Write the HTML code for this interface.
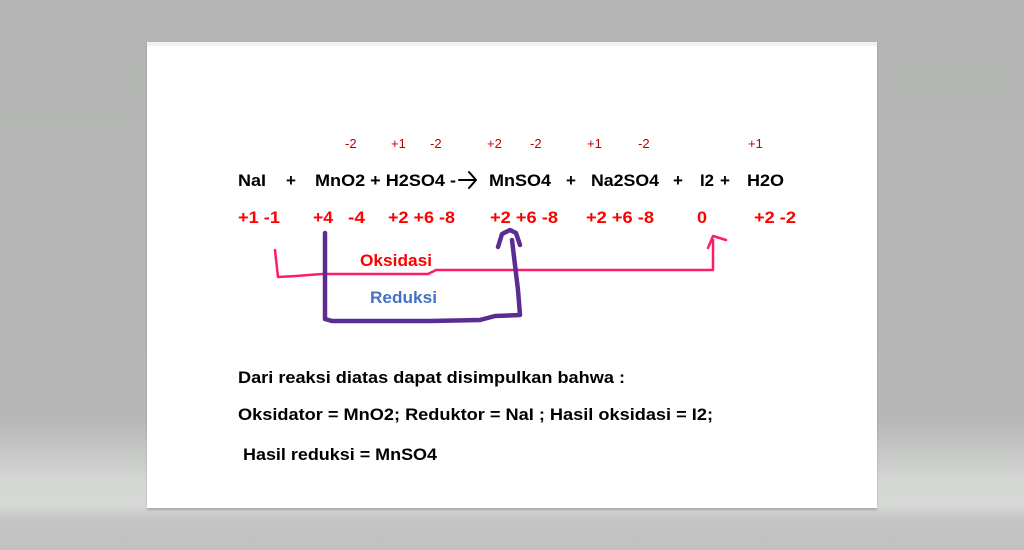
<!DOCTYPE html>
<html><head><meta charset="utf-8"><style>
html,body{margin:0;padding:0;}
body{width:1024px;height:550px;overflow:hidden;position:relative;
background:linear-gradient(#b4b5b4 0px,#b6b7b6 420px,#d4d6d4 480px,#d6d8d6 505px,#c4c5c4 520px,#bfc0bf 550px);}
#page{position:absolute;left:147px;top:42px;width:730px;height:466px;background:#fff;border-top:4px solid #f2f2f2;box-sizing:border-box;box-shadow:0 2px 2px rgba(0,0,0,0.2);}
svg{position:absolute;left:0;top:0;}
text{font-family:"Liberation Sans",sans-serif;}
.b{font-weight:bold;font-size:17px;fill:#000;}
.r{font-weight:bold;font-size:17px;fill:#ff0000;}
.s{font-size:13px;fill:#c00000;}
</style></head><body>
<div id="page"></div>
<svg width="1024" height="550" viewBox="0 0 1024 550">
<text x="345" y="148" class="s">-2</text>
<text x="391" y="148" class="s">+1</text>
<text x="430" y="148" class="s">-2</text>
<text x="487" y="148" class="s">+2</text>
<text x="530" y="148" class="s">-2</text>
<text x="587" y="148" class="s">+1</text>
<text x="638" y="148" class="s">-2</text>
<text x="748" y="148" class="s">+1</text>

<text class="b" x="238" y="186" textLength="28" lengthAdjust="spacingAndGlyphs">NaI</text>
<text class="b" x="286" y="186">+</text>
<text class="b" x="315" y="186" textLength="141" lengthAdjust="spacingAndGlyphs">MnO2 + H2SO4 -</text>
<path d="M459,180 L476,180 M469,172 L476,180 L469,188" fill="none" stroke="#000" stroke-width="2" stroke-linecap="round" stroke-linejoin="round"/>
<text class="b" x="489" y="186" textLength="62" lengthAdjust="spacingAndGlyphs">MnSO4</text>
<text class="b" x="566" y="186">+</text>
<text class="b" x="591" y="186" textLength="68" lengthAdjust="spacingAndGlyphs">Na2SO4</text>
<text class="b" x="673" y="186">+</text>
<text class="b" x="700" y="186" textLength="14" lengthAdjust="spacingAndGlyphs">I2</text>
<text class="b" x="720" y="186">+</text>
<text class="b" x="747" y="186" textLength="37" lengthAdjust="spacingAndGlyphs">H2O</text>

<text class="r" x="238" y="223" textLength="42" lengthAdjust="spacingAndGlyphs">+1 -1</text>
<text class="r" x="313" y="223" textLength="20" lengthAdjust="spacingAndGlyphs">+4</text>
<text class="r" x="348" y="223" textLength="17" lengthAdjust="spacingAndGlyphs">-4</text>
<text class="r" x="388" y="223" textLength="67" lengthAdjust="spacingAndGlyphs">+2 +6 -8</text>
<text class="r" x="490" y="223" textLength="68" lengthAdjust="spacingAndGlyphs">+2 +6 -8</text>
<text class="r" x="586" y="223" textLength="68" lengthAdjust="spacingAndGlyphs">+2 +6 -8</text>
<text class="r" x="697" y="223" textLength="10" lengthAdjust="spacingAndGlyphs">0</text>
<text class="r" x="754" y="223" textLength="42" lengthAdjust="spacingAndGlyphs">+2 -2</text>

<path d="M275,250 L278,277 L296,276 L322,274 L428,274 L436,270 L713,270 L713,240 M708,248 L713,236 L726,240" fill="none" stroke="#ff1a6e" stroke-width="2.5" stroke-linejoin="round" stroke-linecap="round"/>
<path d="M325,233 L325,319 L332,321 L430,321 L480,320 L495,316 L520,315 L518,290 L512,240 M498,247 L502,234 L510,230 L516,233 L520,245" fill="none" stroke="#5b2c91" stroke-width="4.5" stroke-linejoin="round" stroke-linecap="round"/>

<text class="r" x="360" y="266" textLength="72" lengthAdjust="spacingAndGlyphs">Oksidasi</text>
<text x="370" y="303" style="font-weight:bold;font-size:17px;fill:#4472c4" textLength="67" lengthAdjust="spacingAndGlyphs">Reduksi</text>

<text class="b" x="238" y="383" textLength="387" lengthAdjust="spacingAndGlyphs">Dari reaksi diatas dapat disimpulkan bahwa :</text>
<text class="b" x="238" y="420" textLength="475" lengthAdjust="spacingAndGlyphs">Oksidator = MnO2;  Reduktor = NaI ; Hasil oksidasi = I2;</text>
<text class="b" x="243" y="460" textLength="194" lengthAdjust="spacingAndGlyphs">Hasil reduksi = MnSO4</text>
</svg>
</body></html>
